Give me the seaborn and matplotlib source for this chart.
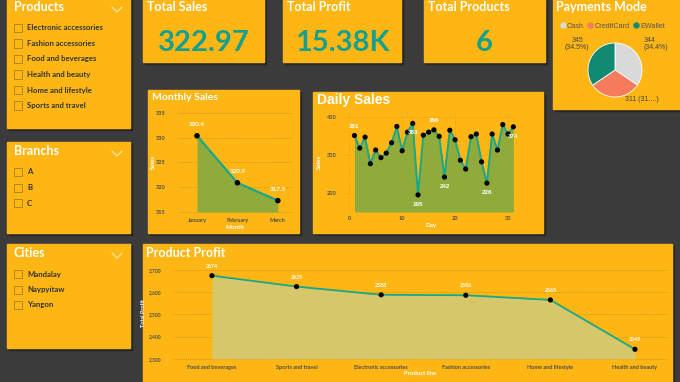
import numpy as np
import pandas as pd
import seaborn as sns
import matplotlib.pyplot as plt
from matplotlib.patches import Rectangle
from matplotlib.lines import Line2D

# ---- data ----
products = ['Electronic accessories', 'Fashion accessories', 'Food and beverages',
            'Health and beauty', 'Home and lifestyle', 'Sports and travel']
branches = ['A', 'B', 'C']
cities = ['Mandalay', 'Naypyitaw', 'Yangon']

total_sales = '322.97'
total_profit = '15.38K'
total_products = '6'

pay_modes = ['Cash', 'CreditCard', 'EWallet']
pay_counts = [344, 311, 345]
pay_labels = ['344\n(34.4%)', '311 (31....)', '345\n(34.5%)']

months = ['January', 'February', 'March']
month_sales = [330.4, 320.9, 317.3]

days = list(range(1, 32))
day_sales = [351, 318, 347, 277, 313, 293, 305, 332, 375, 311, 360, 383, 195, 352, 360, 366,
             349, 242, 365, 340, 286, 263, 348, 355, 282, 226, 355, 313, 380, 355, 374]
day_labelled = {1: 'up', 12: 'down', 16: 'up', 13: 'down', 18: 'down', 26: 'down', 31: 'down'}

product_line = ['Food and beverages', 'Sports and travel', 'Electronic accessories',
                'Fashion accessories', 'Home and lifestyle', 'Health and beauty']
product_profit = [2674, 2625, 2588, 2586, 2565, 2343]

# ---- style ----
BG = '#3b3b3b'
PANEL = '#fdb614'
TEAL = '#17a88c'
GREEN_FILL = '#8fab3c'
KHAKI_FILL = '#d6c86a'
GRID = '#c98a12'
TICK = '#4d4d4d'

sns.set_theme(style='white')
plt.rcParams['font.family'] = ['Lato', 'DejaVu Sans']

W, H = 680, 382
fig = plt.figure(figsize=(6.8, 3.82), dpi=100, facecolor=BG)


def box(x, y, w, h):
    return [x / W, 1 - (y + h) / H, w / W, h / H]


def fx(x):
    return x / W


def fy(y):
    return 1 - y / H


def panel(x, y, w, h):
    fig.patches.append(Rectangle((fx(x + 2), fy(y + h + 2)), w / W, h / H,
                                 transform=fig.transFigure, color='#262626', zorder=-3))
    fig.patches.append(Rectangle((fx(x), fy(y + h)), w / W, h / H,
                                 transform=fig.transFigure, color=PANEL, zorder=-2))


def title(x, y, s, size=9, family=None):
    kw = {}
    if family:
        kw['family'] = family
    fig.text(fx(x), fy(y), s, color='white', fontsize=size, fontweight='bold',
             va='top', ha='left', zorder=5, **kw)


def slicer(x, y, w, h, name, items, first_y):
    panel(x, y, w, h)
    title(x + 7, y + 3, name, size=9)
    fig.lines.append(Line2D([fx(x + w - 18), fx(x + w - 13), fx(x + w - 8)],
                            [fy(y + 9), fy(y + 14), fy(y + 9)], transform=fig.transFigure,
                            color='#ffe9b0', lw=0.8, zorder=5))
    for i, it in enumerate(items):
        yy = first_y + i * 15.5
        fig.patches.append(Rectangle((fx(x + 7), fy(yy + 4)), 8 / W, 8 / H, transform=fig.transFigure,
                                     fill=False, ec='#a77d2a', lw=0.6, zorder=5))
        fig.text(fx(x + 20), fy(yy), it, color='#333333', fontsize=5.6, fontweight='bold',
                 va='center', ha='left', zorder=5)


# ---- slicers ----
slicer(7, -2, 123, 130, 'Products', products, 28)
slicer(7, 142, 123, 91, 'Branchs', branches, 172)
slicer(7, 244, 123, 104, 'Cities', cities, 274)

# ---- KPI cards ----
for x, w, name, val in [(143, 121, 'Total Sales', total_sales),
                        (283, 118, 'Total Profit', total_profit),
                        (424, 121, 'Total Products', total_products)]:
    panel(x, -2, w, 64)
    title(x + 4, 1, name, size=9)
    fig.text(fx(x + w / 2), fy(43), val, color='#16a08c', fontsize=21, fontweight='bold',
             ha='center', va='center', zorder=5)

# ---- payments pie ----
panel(553, -2, 130, 111)
title(556, 1, 'Payments Mode', size=9)
pie_colors = ['#d9d9d9', '#f47c5c', '#118a74']
ax = fig.add_axes(box(588, 43, 54, 54))
ax.pie(pay_counts, colors=pie_colors, startangle=90, counterclock=False,
       wedgeprops=dict(linewidth=0.6, edgecolor='white'))
ax.set_xlim(-1, 1)
ax.set_ylim(-1, 1)
ax.set_aspect('equal')
for lbl, (lx, ly, ha) in zip(pay_labels, [(1.05, 0.96, 'left'), (1.0, -1.11, 'center'),
                                          (-1.4, 0.96, 'center')]):
    ax.text(lx, ly, lbl, fontsize=5, color='#444444', ha=ha, va='center',
            family=['Liberation Sans', 'DejaVu Sans'], clip_on=False, linespacing=1.0)
handles = [Line2D([], [], marker='o', ls='', color=c, markersize=3.6) for c in pie_colors]
fig.legend(handles, pay_modes, loc='center', bbox_to_anchor=(fx(612), fy(26)), ncol=3,
           frameon=False, handletextpad=0.05, columnspacing=0.4, handlelength=1.0,
           labelcolor='#555555', prop={'family': ['Liberation Sans', 'DejaVu Sans'], 'size': 5.2})


def style_axes(ax, grid_x=False, size=4):
    ax.set_facecolor('none')
    for s in ax.spines.values():
        s.set_visible(False)
    ax.grid(axis='y', color=GRID, ls=(0, (1, 1.5)), lw=0.6)
    if grid_x:
        ax.grid(axis='x', color=GRID, ls=(0, (3, 3)), lw=0.4, alpha=0.6)
    ax.set_axisbelow(True)
    ax.tick_params(length=0, labelsize=size, labelcolor=TICK)
    for t in ax.get_xticklabels() + ax.get_yticklabels():
        t.set_fontweight('bold')


# ---- monthly sales ----
panel(148, 90, 151, 143)
title(152, 93, 'Monthly Sales', size=7.5)
ax = fig.add_axes(box(178, 110, 114, 104))
mdf = pd.DataFrame({'pos': range(len(months)), 'sales': month_sales})
ax.fill_between(mdf['pos'], mdf['sales'], 315, color=GREEN_FILL, lw=0, zorder=1)
sns.lineplot(data=mdf, x='pos', y='sales', ax=ax, color=TEAL, lw=1.6, zorder=2)
sns.scatterplot(data=mdf, x='pos', y='sales', ax=ax, color='black', s=16, zorder=3, edgecolor='none')
for p, v in zip(mdf['pos'], mdf['sales']):
    ax.annotate(f'{v}', (p, v), xytext=(0, 6), textcoords='offset points', ha='center',
                va='bottom', fontsize=4.5, color='white', fontweight='bold')
ax.set_xlim(-0.47, 2.35)
ax.set_ylim(314.6, 335.6)
ax.set_xticks(mdf['pos'], months)
ax.set_yticks([315, 320, 325, 330, 335])
style_axes(ax)
ax.tick_params(axis='y', pad=9)
ax.tick_params(axis='x', pad=3)
ax.set_xlabel('Month', fontsize=4.5, color='white', fontweight='bold', labelpad=1)
ax.set_ylabel('Sales', fontsize=4.5, color='white', fontweight='bold')
ax.yaxis.set_label_coords(-0.19, 0.5)

# ---- daily sales ----
panel(313, 92, 230, 141)
title(317, 93, 'Daily Sales', size=10, family=['Liberation Sans', 'DejaVu Sans'])
ax = fig.add_axes(box(346, 112, 170, 100))
ddf = pd.DataFrame({'day': days, 'sales': day_sales})
ax.fill_between(ddf['day'], ddf['sales'], 150, color=GREEN_FILL, lw=0, zorder=1)
sns.lineplot(data=ddf, x='day', y='sales', ax=ax, color=TEAL, lw=1.4, zorder=2)
sns.scatterplot(data=ddf, x='day', y='sales', ax=ax, color='black', s=14, zorder=3, edgecolor='none')
for d, v in zip(ddf['day'], ddf['sales']):
    if d in day_labelled:
        off = 5 if day_labelled[d] == 'up' else -5
        ax.annotate(f'{v}', (d, v), xytext=(0, off), textcoords='offset points', ha='center',
                    va='bottom' if off > 0 else 'top', fontsize=4.5, color='white',
                    fontweight='bold', family=['Liberation Sans', 'DejaVu Sans'], zorder=4)
ax.set_xlim(-0.6, 31.5)
ax.set_ylim(150, 413)
ax.set_xticks([0, 10, 20, 30])
ax.set_yticks([200, 300, 400])
style_axes(ax, grid_x=True)
ax.grid(axis='y', color=GRID, ls=(0, (3, 3)), lw=0.4, alpha=0.6)
ax.tick_params(axis='y', pad=7)
ax.tick_params(axis='x', pad=3)
ax.set_xlabel('Day', fontsize=4.5, color='white', fontweight='bold', labelpad=1)
ax.set_ylabel('Sales', fontsize=4.5, color='white', fontweight='bold')
ax.yaxis.set_label_coords(-0.14, 0.5)

# ---- product profit ----
panel(143, 244, 529, 142)
title(146, 247, 'Product Profit', size=9)
ax = fig.add_axes(box(173, 265, 495, 97))
pdf = pd.DataFrame({'pos': range(len(product_line)), 'profit': product_profit})
ax.fill_between(pdf['pos'], pdf['profit'], 2300, color=KHAKI_FILL, lw=0, zorder=1)
sns.lineplot(data=pdf, x='pos', y='profit', ax=ax, color=TEAL, lw=1.3, zorder=2)
sns.scatterplot(data=pdf, x='pos', y='profit', ax=ax, color='black', s=14, zorder=3, edgecolor='none')
for p, v in zip(pdf['pos'], pdf['profit']):
    ax.annotate(f'{v}', (p, v), xytext=(0, 5), textcoords='offset points', ha='center',
                va='bottom', fontsize=3.8, color='white', fontweight='bold')
ax.set_xlim(-0.46, 5.39)
ax.set_ylim(2286, 2722)
ax.set_xticks(pdf['pos'], product_line)
ax.set_yticks([2300, 2400, 2500, 2600, 2700], ['2,300', '2,400', '2,500', '2,600', '2,700'])
style_axes(ax)
ax.tick_params(axis='y', pad=8, labelsize=3.5)
ax.tick_params(axis='x', pad=2)
ax.set_xlabel('Product line', fontsize=4.2, color='white', fontweight='bold', labelpad=1)
ax.set_ylabel('Total Profit', fontsize=4, color='white', fontweight='bold')
ax.yaxis.set_label_coords(-0.054, 0.5)

fig.savefig('out.png', dpi=100, facecolor=BG)
